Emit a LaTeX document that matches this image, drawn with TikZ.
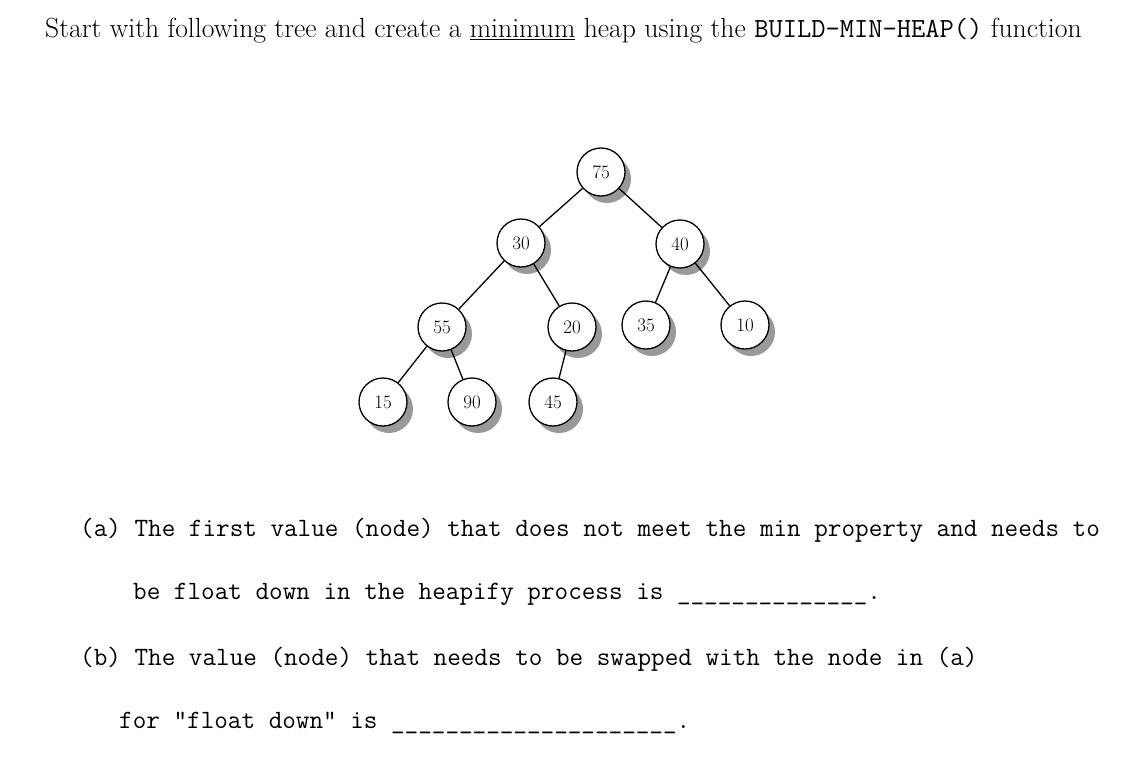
\documentclass[tikz,border=0pt]{standalone}
\begin{document}
\begin{tikzpicture}[x=1pt,y=-1pt,
  hn/.style={circle,draw,line width=1.3pt,fill=white,minimum size=48pt,inner sep=0pt,font=\fontsize{19}{21}\selectfont},
  sh/.style={circle,fill=black!40,minimum size=48pt,inner sep=0pt},
  ed/.style={line width=1.3pt},
  mt/.style={anchor=west,inner sep=0pt,font=\fontsize{26.4}{29}\selectfont\ttfamily}]
\useasboundingbox[fill=white] (0,0) rectangle (1138,782);
\foreach \n/\x/\y in {75/601/172,30/521/243,40/680/244,55/442/327,20/572/327,35/646/325,10/745/325,15/383/402,90/472/402,45/553/402}
  \node[sh] at (\x+6,\y+7) {};
\foreach \n/\x/\y in {75/601/172,30/521/243,40/680/244,55/442/327,20/572/327,35/646/325,10/745/325,15/383/402,90/472/402,45/553/402}
  \node[hn] (n\n) at (\x,\y) {\n};
\foreach \a/\b in {75/30,75/40,30/55,30/20,40/35,40/10,55/15,55/90,20/45}
  \draw[ed] (n\a) -- (n\b);
\node[anchor=west,inner sep=0pt,font=\fontsize{27.7}{30}\selectfont] (title) at (45,31) {Start with following tree and create a \underline{minimum} heap using the \texttt{BUILD-MIN-HEAP()} function};
\node[mt] (la) at (80,530) {(a) The first value (node) that does not meet the min property and needs to};
\node[mt] (lb) at (133,594) {be float down in the heapify process is \_\_\_\_\_\_\_\_\_\_\_\_\_\_.};
\node[mt] (lc) at (80,659) {(b) The value (node) that needs to be swapped with the node in (a)};
\node[mt] (ld) at (119,723) {for "float down" is \_\_\_\_\_\_\_\_\_\_\_\_\_\_\_\_\_\_\_\_\_.};
\end{tikzpicture}
\end{document}
